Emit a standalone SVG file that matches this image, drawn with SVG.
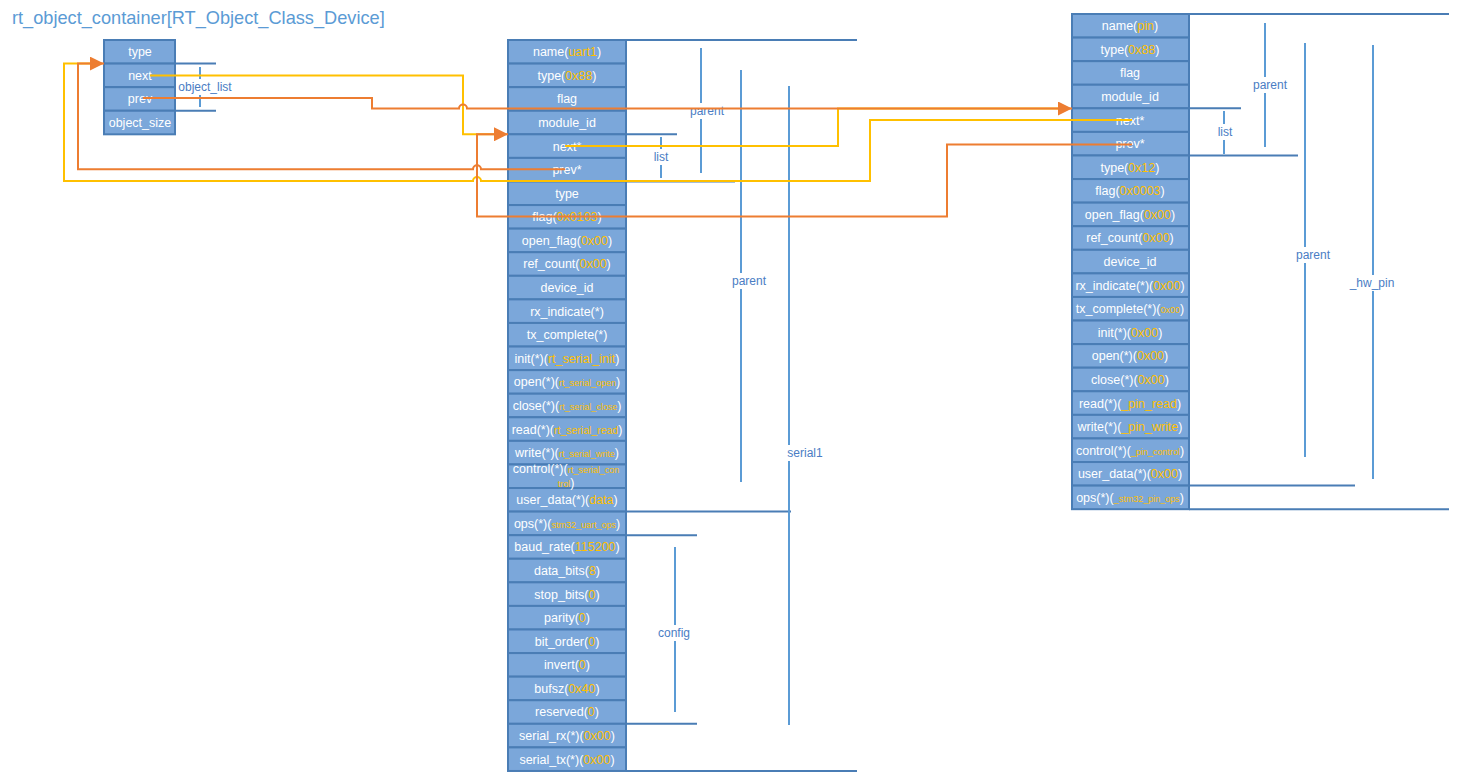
<svg xmlns="http://www.w3.org/2000/svg" width="1457" height="774" viewBox="0 0 1457 774">
<style>
.c{fill:#7BA7DA;stroke:#4A7DB5;stroke-width:2}
.t{font-family:"Liberation Sans",Arial,sans-serif;font-size:12.5px;fill:#FFFFFF;text-anchor:middle}
.v{fill:#FFC000}
.s{font-size:9px}
.m{font-size:10.5px}
.h{stroke:#4A7DB5;stroke-width:2;fill:none}
.vl{stroke:#5B9BD5;stroke-width:2;fill:none}
.lb{font-family:"Liberation Sans",Arial,sans-serif;font-size:12px;fill:#4A7DC4;text-anchor:middle}
.bg{fill:#FFFFFF}
.o{stroke:#ED7D31;stroke-width:2;fill:none}
.y{stroke:#FFC000;stroke-width:2;fill:none}
</style>
<defs>
<marker id="ah" markerUnits="userSpaceOnUse" markerWidth="14" markerHeight="14" refX="12" refY="6" orient="auto" viewBox="0 0 12 12">
<path d="M0,0 L12,6 L0,12 Z" fill="#ED7D31"/>
</marker>
</defs>
<rect width="1457" height="774" fill="#FFFFFF"/>
<text x="12" y="24" font-family="Liberation Sans,Arial,sans-serif" font-size="18.2" fill="#5B9BD5">rt_object_container[RT_Object_Class_Device]</text>

<g id="container">
<rect class="c" x="104" y="40" width="71" height="23.58"/>
<rect class="c" x="104" y="63.58" width="71" height="23.58"/>
<rect class="c" x="104" y="87.16" width="71" height="23.58"/>
<rect class="c" x="104" y="110.74" width="71" height="23.58"/>
<text class="t" x="140" y="56">type</text>
<text class="t" x="140" y="79.6">next</text>
<text class="t" x="140" y="103.2">prev</text>
<text class="t" x="140" y="126.8">object_size</text>
<path class="h" d="M175,63.6 H216 M175,110.7 H216"/>
<path class="vl" d="M200,67 V107"/>
<rect class="bg" x="176" y="79" width="58" height="16"/>
<text class="lb" x="205" y="91">object_list</text>
</g>

<g id="uart1">
<rect class="c" x="508" y="40" width="118" height="23.58"/>
<rect class="c" x="508" y="63.58" width="118" height="23.58"/>
<rect class="c" x="508" y="87.16" width="118" height="23.58"/>
<rect class="c" x="508" y="110.74" width="118" height="23.58"/>
<rect class="c" x="508" y="134.32" width="118" height="23.58"/>
<rect class="c" x="508" y="157.9" width="118" height="23.58"/>
<rect class="c" x="508" y="181.48" width="118" height="23.58"/>
<rect class="c" x="508" y="205.06" width="118" height="23.58"/>
<rect class="c" x="508" y="228.64" width="118" height="23.58"/>
<rect class="c" x="508" y="252.22" width="118" height="23.58"/>
<rect class="c" x="508" y="275.8" width="118" height="23.58"/>
<rect class="c" x="508" y="299.38" width="118" height="23.58"/>
<rect class="c" x="508" y="322.96" width="118" height="23.58"/>
<rect class="c" x="508" y="346.54" width="118" height="23.58"/>
<rect class="c" x="508" y="370.12" width="118" height="23.58"/>
<rect class="c" x="508" y="393.7" width="118" height="23.58"/>
<rect class="c" x="508" y="417.28" width="118" height="23.58"/>
<rect class="c" x="508" y="440.86" width="118" height="23.58"/>
<rect class="c" x="508" y="464.44" width="118" height="23.58"/>
<rect class="c" x="508" y="488.02" width="118" height="23.58"/>
<rect class="c" x="508" y="511.6" width="118" height="23.58"/>
<rect class="c" x="508" y="535.18" width="118" height="23.58"/>
<rect class="c" x="508" y="558.76" width="118" height="23.58"/>
<rect class="c" x="508" y="582.34" width="118" height="23.58"/>
<rect class="c" x="508" y="605.92" width="118" height="23.58"/>
<rect class="c" x="508" y="629.5" width="118" height="23.58"/>
<rect class="c" x="508" y="653.08" width="118" height="23.58"/>
<rect class="c" x="508" y="676.66" width="118" height="23.58"/>
<rect class="c" x="508" y="700.24" width="118" height="23.58"/>
<rect class="c" x="508" y="723.82" width="118" height="23.58"/>
<rect class="c" x="508" y="747.4" width="118" height="23.58"/>
<text class="t" x="567" y="56.2">name(<tspan class="v">uart1</tspan>)</text>
<text class="t" x="567" y="79.8">type(<tspan class="v">0x88</tspan>)</text>
<text class="t" x="567" y="103.4">flag</text>
<text class="t" x="567" y="127">module_id</text>
<text class="t" x="567" y="150.5">next*</text>
<text class="t" x="567" y="174.1">prev*</text>
<text class="t" x="567" y="197.7">type</text>
<text class="t" x="567" y="221.3">flag(<tspan class="v">0x0103</tspan>)</text>
<text class="t" x="567" y="244.8">open_flag(<tspan class="v">0x00</tspan>)</text>
<text class="t" x="567" y="268.4">ref_count(<tspan class="v">0x00</tspan>)</text>
<text class="t" x="567" y="292">device_id</text>
<text class="t" x="567" y="315.6">rx_indicate(*)</text>
<text class="t" x="567" y="339.2">tx_complete(*)</text>
<text class="t" x="567" y="362.7">init(*)(<tspan class="v">rt_serial_init</tspan>)</text>
<text class="t" x="567" y="386.3">open(*)(<tspan class="v s">rt_serial_open</tspan>)</text>
<text class="t" x="567" y="409.9">close(*)(<tspan class="v s">rt_serial_close</tspan>)</text>
<text class="t" x="567" y="433.5">read(*)(<tspan class="v m">rt_serial_read</tspan>)</text>
<text class="t" x="567" y="457">write(*)(<tspan class="v s">rt_serial_write</tspan>)</text>
<text class="t" x="566" y="473">control(*)(<tspan class="v s">rt_serial_con</tspan></text>
<text class="t" x="566" y="487"><tspan class="v s">trol</tspan>)</text>
<text class="t" x="567" y="504.2">user_data(*)(<tspan class="v">data</tspan>)</text>
<text class="t" x="567" y="527.8">ops(*)(<tspan class="v s">stm32_uart_ops</tspan>)</text>
<text class="t" x="567" y="551.4">baud_rate(<tspan class="v">115200</tspan>)</text>
<text class="t" x="567" y="574.9">data_bits(<tspan class="v">8</tspan>)</text>
<text class="t" x="567" y="598.5">stop_bits(<tspan class="v">0</tspan>)</text>
<text class="t" x="567" y="622.1">parity(<tspan class="v">0</tspan>)</text>
<text class="t" x="567" y="645.7">bit_order(<tspan class="v">0</tspan>)</text>
<text class="t" x="567" y="669.3">invert(<tspan class="v">0</tspan>)</text>
<text class="t" x="567" y="692.9">bufsz(<tspan class="v">0x40</tspan>)</text>
<text class="t" x="567" y="716.4">reserved(<tspan class="v">0</tspan>)</text>
<text class="t" x="567" y="740">serial_rx(*)(<tspan class="v">0x00</tspan>)</text>
<text class="t" x="567" y="763.6">serial_tx(*)(<tspan class="v">0x00</tspan>)</text>
<path class="h" d="M626,40 H857 M626,134.3 H677 M626,181.5 H735 M626,511.6 H791 M626,535.2 H697 M626,723.8 H697 M626,771 H857"/>
<path class="vl" d="M701,48 V173 M661,137 V178 M741,70 V482 M789,86 V725 M675,547 V712"/>
<rect class="bg" x="688" y="103" width="38" height="16"/>
<text class="lb" x="707" y="115">parent</text>
<rect class="bg" x="651" y="149" width="20" height="16"/>
<text class="lb" x="661" y="161">list</text>
<rect class="bg" x="730" y="273" width="38" height="16"/>
<text class="lb" x="749" y="285">parent</text>
<rect class="bg" x="786" y="445" width="38" height="16"/>
<text class="lb" x="805" y="457">serial1</text>
<rect class="bg" x="657" y="625" width="35" height="16"/>
<text class="lb" x="674" y="637">config</text>
</g>

<g id="pin">
<rect class="c" x="1072" y="14" width="117" height="23.58"/>
<rect class="c" x="1072" y="37.58" width="117" height="23.58"/>
<rect class="c" x="1072" y="61.16" width="117" height="23.58"/>
<rect class="c" x="1072" y="84.74" width="117" height="23.58"/>
<rect class="c" x="1072" y="108.32" width="117" height="23.58"/>
<rect class="c" x="1072" y="131.9" width="117" height="23.58"/>
<rect class="c" x="1072" y="155.48" width="117" height="23.58"/>
<rect class="c" x="1072" y="179.06" width="117" height="23.58"/>
<rect class="c" x="1072" y="202.64" width="117" height="23.58"/>
<rect class="c" x="1072" y="226.22" width="117" height="23.58"/>
<rect class="c" x="1072" y="249.8" width="117" height="23.58"/>
<rect class="c" x="1072" y="273.38" width="117" height="23.58"/>
<rect class="c" x="1072" y="296.96" width="117" height="23.58"/>
<rect class="c" x="1072" y="320.54" width="117" height="23.58"/>
<rect class="c" x="1072" y="344.12" width="117" height="23.58"/>
<rect class="c" x="1072" y="367.7" width="117" height="23.58"/>
<rect class="c" x="1072" y="391.28" width="117" height="23.58"/>
<rect class="c" x="1072" y="414.86" width="117" height="23.58"/>
<rect class="c" x="1072" y="438.44" width="117" height="23.58"/>
<rect class="c" x="1072" y="462.02" width="117" height="23.58"/>
<rect class="c" x="1072" y="485.6" width="117" height="23.58"/>
<text class="t" x="1130" y="30.2">name(<tspan class="v">pin</tspan>)</text>
<text class="t" x="1130" y="53.8">type(<tspan class="v">0x88</tspan>)</text>
<text class="t" x="1130" y="77.4">flag</text>
<text class="t" x="1130" y="100.9">module_id</text>
<text class="t" x="1130" y="124.5">next*</text>
<text class="t" x="1130" y="148.1">prev*</text>
<text class="t" x="1130" y="171.7">type(<tspan class="v">0x12</tspan>)</text>
<text class="t" x="1130" y="195.3">flag(<tspan class="v">0x0003</tspan>)</text>
<text class="t" x="1130" y="218.8">open_flag(<tspan class="v">0x00</tspan>)</text>
<text class="t" x="1130" y="242.4">ref_count(<tspan class="v">0x00</tspan>)</text>
<text class="t" x="1130" y="266">device_id</text>
<text class="t" x="1130" y="289.6">rx_indicate(*)(<tspan class="v">0x00</tspan>)</text>
<text class="t" x="1130" y="313.2">tx_complete(*)(<tspan class="v s">0x00</tspan>)</text>
<text class="t" x="1130" y="336.7">init(*)(<tspan class="v">0x00</tspan>)</text>
<text class="t" x="1130" y="360.3">open(*)(<tspan class="v">0x00</tspan>)</text>
<text class="t" x="1130" y="383.9">close(*)(<tspan class="v">0x00</tspan>)</text>
<text class="t" x="1130" y="407.5">read(*)(<tspan class="v">_pin_read</tspan>)</text>
<text class="t" x="1130" y="431.1">write(*)(<tspan class="v">_pin_write</tspan>)</text>
<text class="t" x="1130" y="454.6">control(*)(<tspan class="v s">_pin_control</tspan>)</text>
<text class="t" x="1130" y="478.2">user_data(*)(<tspan class="v">0x00</tspan>)</text>
<text class="t" x="1130" y="501.8">ops(*)(<tspan class="v s">_stm32_pin_ops</tspan>)</text>
<path class="h" d="M1189,14 H1449 M1189,108.3 H1241 M1189,155.5 H1298 M1189,485.6 H1355 M1189,509.2 H1449"/>
<path class="vl" d="M1265,23 V147 M1224,111 V154 M1305,43 V457 M1373,45 V479"/>
<rect class="bg" x="1251" y="77" width="38" height="16"/>
<text class="lb" x="1270" y="89">parent</text>
<rect class="bg" x="1215" y="124" width="20" height="16"/>
<text class="lb" x="1225" y="136">list</text>
<rect class="bg" x="1294" y="247" width="38" height="16"/>
<text class="lb" x="1313" y="259">parent</text>
<rect class="bg" x="1348" y="275" width="48" height="16"/>
<text class="lb" x="1372" y="287">_hw_pin</text>
</g>

<g id="connectors">
<path class="y" d="M150,75.4 H463 V134.3 H498"/>
<path class="y" d="M565,146.1 H838 V108.5 H1062"/>
<path class="y" d="M1132,120.1 H870 V181 H481 A4,4 0 0 0 473,181 H64 V63.6 H94"/>
<path class="o" d="M143,98 H372 V108.5 H459 A4,4 0 0 1 467,108.5 H1072" marker-end="url(#ah)"/>
<path class="o" d="M565,169.3 H481 A4,4 0 0 0 473,169.3 H78 V63.6 H104" marker-end="url(#ah)"/>
<path class="o" d="M1132,144.5 H947 V216.5 H477 V134.3 H508" marker-end="url(#ah)"/>
</g>
</svg>
